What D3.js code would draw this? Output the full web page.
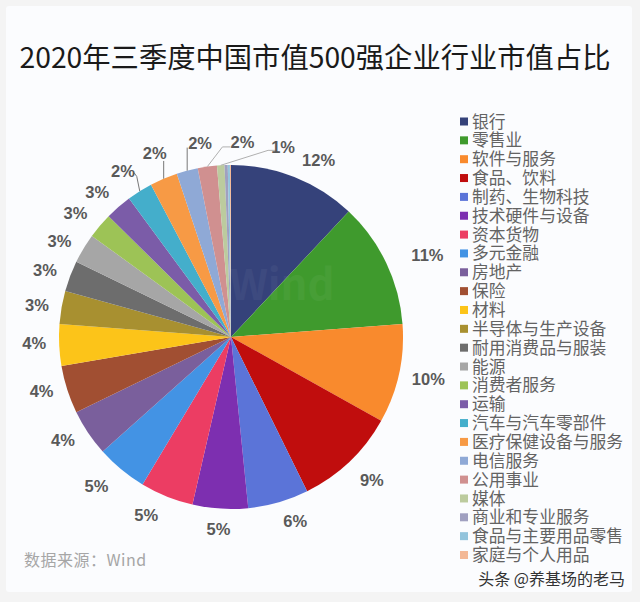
<!DOCTYPE html>
<html>
<head>
<meta charset="utf-8">
<script src="https://cdn.jsdelivr.net/npm/d3@7"></script>
<style>
html, body { margin: 0; padding: 0; background: #f4f4f4; }
svg { display: block; font-family: "Noto Sans CJK SC", "Noto Sans", sans-serif; }
</style>
</head>
<body>
<script>
var categories = ["银行", "零售业", "软件与服务", "食品、饮料", "制药、生物科技", "技术硬件与设备",
  "资本货物", "多元金融", "房地产", "保险", "材料", "半导体与生产设备", "耐用消费品与服装",
  "能源", "消费者服务", "运输", "汽车与汽车零部件", "医疗保健设备与服务", "电信服务", "公用事业",
  "媒体", "商业和专业服务", "食品与主要用品零售", "家庭与个人用品"];

// slice sizes, the printed labels are rounded
var shares = [12.0, 11.8, 9.3, 9.6, 5.7, 5.2, 5.0, 4.8, 4.4, 4.5, 3.9, 3.1, 2.9, 2.8, 2.4, 2.5, 2.4, 2.6, 2.0, 1.8, 0.7, 0.3, 0.2, 0.1];

var shownLabels = ["12%", "11%", "10%", "9%", "6%", "5%", "5%", "5%", "4%", "4%", "4%", "3%", "3%", "3%", "3%", "3%", "2%", "2%", "2%", "2%", "1%"];

var colors = ["#35427a", "#3f9a2d", "#f98a2d", "#c00d0d", "#5b74d8", "#7d2fb0", "#ec3d63", "#4393e4",
  "#7a5f9c", "#a14f32", "#fcc419", "#a89030", "#6d6d6d", "#a6a6a6", "#9dc356", "#7b5ca8",
  "#44aecb", "#f79a45", "#8fa9d6", "#d09090", "#bccb9e", "#a0a0c0", "#93c4dc", "#f3b896"];

var width = 640,
    height = 602,
    cx = 231,
    cy = 337,
    radius = 172;

// label shift from its spot on the label ring
var nudges = [[14, 9], [16, 4], [2, -1], [3, -2], [9, -8], [0, -8], [-10, -7], [-7, -5], [-2, -8], [1, -7], [3, -3],
  [3, 2], [1, 4], [0, 7], [-3, 5], [-3, 6], [-2, 4], [2, 0], [20, -1], [39, 3], [64, 10]];

var svg = d3.select("body").append("svg")
    .attr("width", width)
    .attr("height", height);

svg.append("rect")
    .attr("x", 6).attr("y", 6)
    .attr("width", 626).attr("height", 586)
    .attr("rx", 3)
    .attr("fill", "#fbfcfe");

svg.append("text")
    .attr("x", 315).attr("y", 68)
    .attr("text-anchor", "middle")
    .attr("font-size", 28.3)
    .attr("fill", "#1a1a1a")
    .text("2020年三季度中国市值500强企业行业市值占比");

var pie = d3.pie().sort(null).value(function(d) { return d; });
var arcs = pie(shares);
var arc = d3.arc().innerRadius(0).outerRadius(radius);
var ring = d3.arc().innerRadius(200).outerRadius(200);
var edge = d3.arc().innerRadius(radius).outerRadius(radius);

var g = svg.append("g").attr("transform", "translate(" + cx + "," + cy + ")");

g.selectAll("path.slice")
    .data(arcs)
  .enter().append("path")
    .attr("class", "slice")
    .attr("d", arc)
    .attr("fill", function(d, i) { return colors[i]; });

svg.append("text")
    .attr("x", 282).attr("y", 300)
    .attr("text-anchor", "middle")
    .attr("font-size", 42)
    .attr("font-weight", "bold")
    .attr("fill", "#fff")
    .attr("opacity", 0.04)
    .text("Wind");

function labelPos(i) {
  var c = ring.centroid(arcs[i]);
  return [c[0] + nudges[i][0], c[1] + nudges[i][1]];
}

// leaders only on the crowded slices at the top
var leaderEnds = {16: [11, 1], 17: [8, 8], 18: [-15, 5], 19: [-20, 5], 20: [-15, 3]};

Object.keys(leaderEnds).forEach(function(k) {
  var i = +k,
      s = edge.centroid(arcs[i]),
      p = labelPos(i),
      e = [p[0] + leaderEnds[k][0], p[1] + leaderEnds[k][1]],
      pts = [s, e];
  if (i >= 19) pts = [s, [e[0], e[1]], [e[0] + 8, e[1]]];
  if (i == 16) pts = [s, [s[0] - 3, e[1] + 4], e];
  if (i == 17 || i == 18) pts = [s, [s[0], e[1]]];
  g.append("path")
      .attr("d", d3.line()(pts))
      .attr("fill", "none")
      .attr("stroke", i >= 19 ? "#b0b0b0" : "#777")
      .attr("stroke-width", 1);
});

g.selectAll("text.pct")
    .data(shownLabels)
  .enter().append("text")
    .attr("class", "pct")
    .attr("x", function(d, i) { return labelPos(i)[0]; })
    .attr("y", function(d, i) { return labelPos(i)[1]; })
    .attr("dy", "0.36em")
    .attr("text-anchor", "middle")
    .attr("font-family", "'Liberation Sans', sans-serif")
    .attr("font-size", 16.5)
    .attr("font-weight", "bold")
    .attr("fill", "#595959")
    .text(function(d) { return d; });

var legendY = d3.scalePoint().domain(categories).range([121.5, 555]);

var legend = svg.selectAll("g.legend")
    .data(categories)
  .enter().append("g")
    .attr("class", "legend")
    .attr("transform", function(d) { return "translate(460," + legendY(d) + ")"; });

legend.append("rect")
    .attr("x", 0).attr("y", -4)
    .attr("width", 8).attr("height", 8)
    .attr("fill", function(d, i) { return colors[i]; });

legend.append("text")
    .attr("x", 12)
    .attr("dy", "0.36em")
    .attr("font-size", 16.8)
    .attr("fill", "#636363")
    .text(function(d) { return d; });

svg.append("text")
    .attr("x", 24).attr("y", 566)
    .attr("font-size", 16)
    .attr("letter-spacing", 0.5)
    .attr("fill", "#a6a6a6")
    .text("数据来源：Wind");

svg.append("text")
    .attr("x", 625).attr("y", 585)
    .attr("text-anchor", "end")
    .attr("font-size", 16)
    .attr("fill", "#333")
    .text("头条 @养基场的老马");
</script>
</body>
</html>
